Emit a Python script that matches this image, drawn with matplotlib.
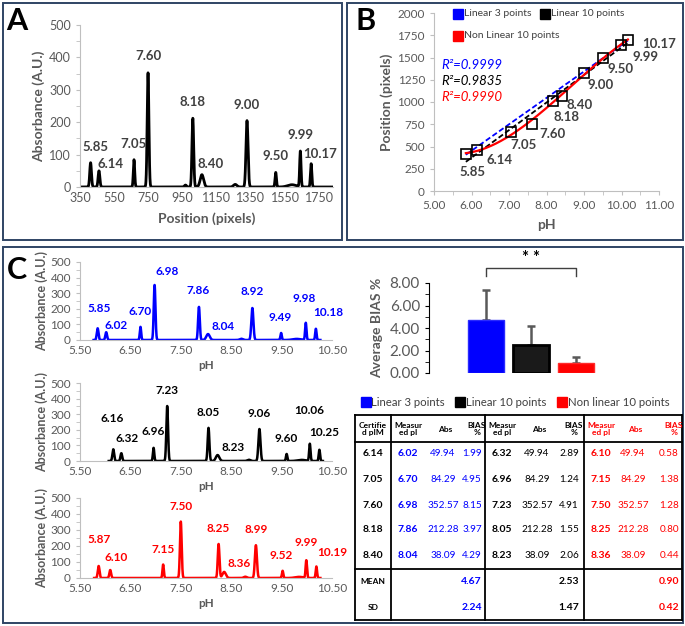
import numpy as np
import matplotlib.pyplot as plt
from matplotlib.patches import Rectangle
from matplotlib.lines import Line2D
from matplotlib.ticker import MultipleLocator

plt.rcParams['font.family'] = ['Lato', 'DejaVu Sans']

# ---------------- data ----------------
certified_pI = [5.85, 6.14, 7.05, 7.60, 8.18, 8.40, 9.00, 9.50, 9.99, 10.17]
marker_pixels = [412, 461, 666, 748, 1010, 1063, 1327, 1495, 1639, 1702]
marker_abs = [75, 49.94, 84.29, 352.57, 212.28, 38.09, 205, 45, 110, 72]
marker_sigma_px = [5, 5, 4, 5, 5, 10, 6, 4, 4, 4]

bump_pixels = [967, 1258, 1590]
bump_abs = [6, 8, 7]
bump_sigma_px = [6, 10, 25]

pI_linear3 = [5.85, 6.02, 6.70, 6.98, 7.86, 8.04, 8.92, 9.49, 9.98, 10.18]
pI_linear10 = [6.16, 6.32, 6.96, 7.23, 8.05, 8.23, 9.06, 9.60, 10.06, 10.25]
pI_nonlinear10 = [5.87, 6.10, 7.15, 7.50, 8.25, 8.36, 8.99, 9.52, 9.99, 10.19]
bumps_linear3 = [8.70, 9.80]
bumps_linear10 = [8.85, 9.90]
bumps_nonlinear10 = [8.78, 9.85]
bump_pH_abs = [8, 7]

r2_values = ['0.9999', '0.9835', '0.9990']
fit3_index = [0, 6, 9]

table_certified = [6.14, 7.05, 7.60, 8.18, 8.40]
table_abs = [49.94, 84.29, 352.57, 212.28, 38.09]
meas_lin3 = [6.02, 6.70, 6.98, 7.86, 8.04]
bias_lin3 = [1.99, 4.95, 8.15, 3.97, 4.29]
meas_lin10 = [6.32, 6.96, 7.23, 8.05, 8.23]
bias_lin10 = [2.89, 1.24, 4.91, 1.55, 2.06]
meas_nl10 = [6.10, 7.15, 7.50, 8.25, 8.36]
bias_nl10 = [0.58, 1.38, 1.28, 0.80, 0.44]
mean_bias = [4.67, 2.53, 0.90]
sd_bias = [2.24, 1.47, 0.42]
bar_err_drawn = [2.72, 1.68, 0.52]

method_names = ['Linear 3 points', 'Linear 10 points', 'Non linear 10 points']
method_colors = ['#0000ff', '#000000', '#ff0000']

W, H = 685, 626
GREY = '#595959'
DARK = '#404040'
SPINE = '#bfbfbf'


def spectrum(x, centers, heights, sigmas):
    y = np.zeros_like(x)
    for c, h, s in zip(centers, heights, sigmas):
        y += h * np.exp(-0.5 * ((x - c) / s) ** 2)
    return y


def px_axes(left, top, right, bottom):
    return fig.add_axes([left / W, 1 - bottom / H, (right - left) / W, (bottom - top) / H])


def excel_style(ax, fs):
    for s in ['top', 'right']:
        ax.spines[s].set_visible(False)
    ax.spines['left'].set_color(SPINE)
    ax.spines['bottom'].set_color(SPINE)
    ax.tick_params(which='both', colors=SPINE, labelcolor=GREY, labelsize=fs)
    ax.tick_params(axis='x', which='both', length=0)
    ax.tick_params(axis='y', which='both', length=3)
    ax.patch.set_alpha(0)


fig = plt.figure(figsize=(W / 100, H / 100), dpi=100)

# overlay in pixel coordinates for frames, letters, table
ov = fig.add_axes([0, 0, 1, 1])
ov.set_xlim(0, W)
ov.set_ylim(H, 0)
ov.axis('off')
for (x0, y0, x1, y1) in [(3, 3, 342, 240), (347, 3, 683, 240), (3, 247, 683, 623)]:
    ov.add_patch(Rectangle((x0, y0), x1 - x0, y1 - y0, fill=False, ec='#2f4464', lw=1.4))
for lab, (x, y) in zip('ABC', [(17, 21), (366, 21), (17, 270)]):
    ov.text(x, y, lab, fontsize=22, fontweight='bold', ha='center', va='center')

# ---------------- Panel A ----------------
axA = px_axes(80, 25, 333, 187)
xa = np.linspace(350, 1830, 4000)
ya = spectrum(xa, marker_pixels + bump_pixels, marker_abs + bump_abs,
              marker_sigma_px + bump_sigma_px)
axA.plot(xa, ya, color='black', lw=2)
axA.set_xlim(350, 1830)
axA.set_ylim(0, 500)
axA.set_xticks(np.arange(350, 1751, 200))
axA.set_yticks(np.arange(0, 501, 100))
axA.yaxis.set_minor_locator(MultipleLocator(50))
excel_style(axA, 9)
axA.set_xlabel('Position (pixels)', fontsize=10, fontweight='bold', color=GREY, labelpad=6)
axA.set_ylabel('Absorbance (A.U.)', fontsize=10, fontweight='bold', color=GREY, labelpad=3)
labA_pos = [(438, 124), (526, 70), (662, 134), (750, 404), (1010, 263), (1112, 70),
            (1327, 253), (1493, 95), (1639, 160), (1756, 101)]
for v, (x, y) in zip(certified_pI, labA_pos):
    axA.text(x, y, '%.2f' % v, fontsize=9.5, fontweight='bold', color=DARK,
             ha='center', va='center', clip_on=False)

# ---------------- Panel B ----------------
axB = px_axes(434, 13, 659, 191)
ph = np.array(certified_pI)
pos = np.array(marker_pixels)
xs = np.linspace(ph.min(), ph.max(), 200)
fit10 = np.polyfit(ph, pos, 1)
fit3 = np.polyfit(ph[fit3_index], pos[fit3_index], 1)
fitnl = np.polyfit(ph, pos, 3)
axB.plot(xs, np.polyval(fit3, xs), color='#0000ff', lw=1.3, ls=(0, (3, 1.5)))
axB.plot(xs, np.polyval(fit10, xs), color='black', lw=1.3, ls=(0, (3, 1.5)))
axB.plot(xs, np.polyval(fitnl, xs), color='#ff0000', lw=1.6)
axB.plot(ph, pos, ls='none', marker='s', ms=7, mfc='none', mec='black', mew=1.2)
axB.set_xlim(5, 11)
axB.set_ylim(0, 2000)
axB.set_xticks(np.arange(5, 11.01, 1))
axB.set_xticklabels(['%.2f' % t for t in np.arange(5, 11.01, 1)])
axB.set_yticks(np.arange(0, 2001, 250))
axB.xaxis.set_minor_locator(MultipleLocator(0.5))
excel_style(axB, 8.5)
axB.tick_params(axis='x', which='both', length=3)
axB.set_xlabel('pH', fontsize=10, fontweight='bold', color=GREY, labelpad=6)
axB.set_ylabel('Position (pixels)', fontsize=10, fontweight='bold', color=GREY, labelpad=3)
labB_pos = [(6.02, 213), (6.75, 345), (7.39, 513), (8.15, 644), (8.53, 831), (8.88, 963),
            (9.44, 1187), (9.97, 1375), (10.64, 1506), (11.0, 1655)]
for v, (x, y) in zip(certified_pI, labB_pos):
    axB.text(x, y, '%.2f' % v, fontsize=9.5, fontweight='bold', color=DARK,
             ha='center', va='center', clip_on=False)
for i, (r2, c) in enumerate(zip(r2_values, method_colors)):
    axB.text(5.2, 1415 - i * 180, 'R²=' + r2, color=c, fontsize=9.5, fontstyle='italic',
             va='center')
# legend drawn as Excel-style square keys
legB = [(458, 14, method_colors[0], 'Linear 3 points'),
        (545, 14, method_colors[1], 'Linear 10 points'),
        (458, 36, method_colors[2], 'Non Linear 10 points')]
for x, y, c, t in legB:
    ov.plot(x, y, marker='s', ms=6.5, color=c, ls='none')
    ov.text(x + 6, y, t, fontsize=7.5, color=DARK, va='center', ha='left')

# ---------------- Panel C spectra ----------------
spectra = [
    (pI_linear3, bumps_linear3, '#0000ff', (5.77, 10.27), 262, 340,
     [(5.88, 204), (6.21, 92), (6.70, 182), (7.22, 442), (7.85, 315), (8.34, 86),
      (8.91, 311), (9.48, 144), (9.94, 268), (10.42, 178)]),
    (pI_linear10, bumps_linear10, '#000000', (6.07, 10.32), 383, 461,
     [(6.13, 270), (6.44, 142), (6.95, 189), (7.22, 455), (8.04, 313), (8.54, 86),
      (9.05, 307), (9.58, 146), (10.04, 322), (10.35, 182)]),
    (pI_nonlinear10, bumps_nonlinear10, '#ff0000', (5.78, 10.27), 498, 578,
     [(5.88, 242), (6.21, 131), (7.14, 179), (7.50, 450), (8.24, 312), (8.66, 90),
      (8.99, 304), (9.50, 142), (9.98, 225), (10.51, 158)]),
]
for peaks, bumps, col, (x0, x1), top, bot, lpos in spectra:
    ax = px_axes(80, top, 332, bot)
    xx = np.linspace(x0, x1, 4000)
    sig = [s * 0.0034 for s in marker_sigma_px] + [0.03, 0.08]
    yy = spectrum(xx, list(peaks) + bumps, marker_abs + bump_pH_abs, sig)
    ax.plot(xx, yy, color=col, lw=1.8)
    ax.set_xlim(5.5, 10.5)
    ax.set_ylim(0, 500)
    ax.set_xticks(np.arange(5.5, 10.51, 1))
    ax.set_xticklabels(['%.2f' % t for t in np.arange(5.5, 10.51, 1)])
    ax.set_yticks(np.arange(0, 501, 100))
    ax.yaxis.set_minor_locator(MultipleLocator(50))
    excel_style(ax, 8.5)
    ax.set_xlabel('pH', fontsize=8.5, fontweight='bold', color=GREY, labelpad=3)
    ax.set_ylabel('Absorbance (A.U.)', fontsize=9, fontweight='bold', color=GREY, labelpad=2)
    for v, (x, y) in zip(peaks, lpos):
        ax.text(x, y, '%.2f' % v, fontsize=8.5, fontweight='bold', color=col,
                ha='center', va='center', clip_on=False)

# ---------------- Panel C bars ----------------
axBar = px_axes(429, 283, 621, 373)
xb = np.arange(len(mean_bias))
axBar.bar(xb, mean_bias, width=0.8, color=['#0000ff', '#1a1a1a', '#ff0000'],
          edgecolor=['#2a2aff', '#000000', '#ff2a2a'], linewidth=[1, 2, 1], zorder=2)
axBar.errorbar(xb, mean_bias, yerr=[[0, 0, 0], bar_err_drawn], fmt='none', ecolor=GREY,
               elinewidth=1.8, capsize=3, capthick=1.8, zorder=1)
axBar.set_xlim(-1.27, 3.0)
axBar.set_ylim(0, 8)
axBar.set_yticks(np.arange(0, 8.01, 2))
axBar.set_yticklabels(['%.2f' % t for t in np.arange(0, 8.01, 2)])
axBar.yaxis.set_minor_locator(MultipleLocator(1))
excel_style(axBar, 11)
axBar.spines['bottom'].set_visible(False)
axBar.spines['left'].set_color('black')
axBar.tick_params(axis='y', which='both', color='black')
axBar.set_xticks([])
axBar.set_ylabel('Average BIAS %', fontsize=10, fontweight='bold', color=GREY, labelpad=5)
axBar.plot([0, 0, 2, 2], [8.6, 9.35, 9.35, 8.6], color=DARK, lw=1, clip_on=False)
axBar.text(1, 9.5, '* *', fontsize=12, fontweight='bold', color='black', ha='center',
           va='bottom', clip_on=False)
hBar = [Line2D([], [], ls='none', marker='s', ms=7.5, color=c) for c in method_colors]
fig.legend(hBar, method_names, ncol=3, loc='center left',
           bbox_to_anchor=(356 / W, 1 - 402 / H), frameon=False, fontsize=8.2,
           handlelength=0.7, handletextpad=0.15, columnspacing=1.0, borderpad=0,
           labelcolor=DARK)

# ---------------- Panel C table ----------------
tx0, tx1 = 355, 682
ty0, ty_head, ty_mean, ty1 = 415, 442, 569, 620
for y in [ty0, ty_head, ty_mean, ty1]:
    ov.plot([tx0, tx1], [y, y], color='black', lw=1.3)
for x in [tx0, 391, 485, 584, tx1]:
    ov.plot([x, x], [ty0, ty1], color='black', lw=1.3)

group_cols = [
    ('#000000', '#0000ff', meas_lin3, bias_lin3, 408, 443, 482, mean_bias[0], sd_bias[0]),
    ('#000000', '#000000', meas_lin10, bias_lin10, 502, 537, 579, mean_bias[1], sd_bias[1]),
    ('#ff0000', '#ff0000', meas_nl10, bias_nl10, 601, 633, 679, mean_bias[2], sd_bias[2]),
]
head_y = 429
ov.text(373, head_y, 'Certifie\nd pIM', fontsize=6, fontweight='bold', ha='center',
        va='center', linespacing=1.1)
row_y = [454, 480, 505, 530, 556]
for v, y in zip(table_certified, row_y):
    ov.text(373, y, '%.2f' % v, fontsize=7.5, fontweight='bold', ha='center', va='center')
ov.text(373, 582, 'MEAN', fontsize=6, fontweight='bold', ha='center', va='center')
ov.text(373, 607, 'SD', fontsize=6, fontweight='bold', ha='center', va='center')

for hcol, col, meas, bias, xm, xa_, xr, mn, sd in group_cols:
    ov.text(xm, head_y, 'Measur\ned pI', fontsize=6, fontweight='bold', color=hcol,
            ha='center', va='center', linespacing=1.1)
    ov.text(xa_ + 2, head_y, 'Abs', fontsize=6, fontweight='bold', color=hcol,
            ha='center', va='center')
    ov.text(xr - 5, head_y, 'BIAS\n%', fontsize=6, fontweight='bold', color=hcol,
            ha='center', va='center', linespacing=1.1)
    for m, a, b, y in zip(meas, table_abs, bias, row_y):
        ov.text(xm, y, '%.2f' % m, fontsize=7.5, fontweight='bold', color=col,
                ha='center', va='center')
        ov.text(xa_, y, '%.2f' % a, fontsize=7.2, color=col, ha='center', va='center')
        ov.text(xr, y, '%.2f' % b, fontsize=7.2, color=col, ha='right', va='center')
    ov.text(xr, 582, '%.2f' % mn, fontsize=7.5, fontweight='bold', color=col,
            ha='right', va='center')
    ov.text(xr, 607, '%.2f' % sd, fontsize=7.5, fontweight='bold', color=col,
            ha='right', va='center')

fig.savefig('out.png', dpi=100)
